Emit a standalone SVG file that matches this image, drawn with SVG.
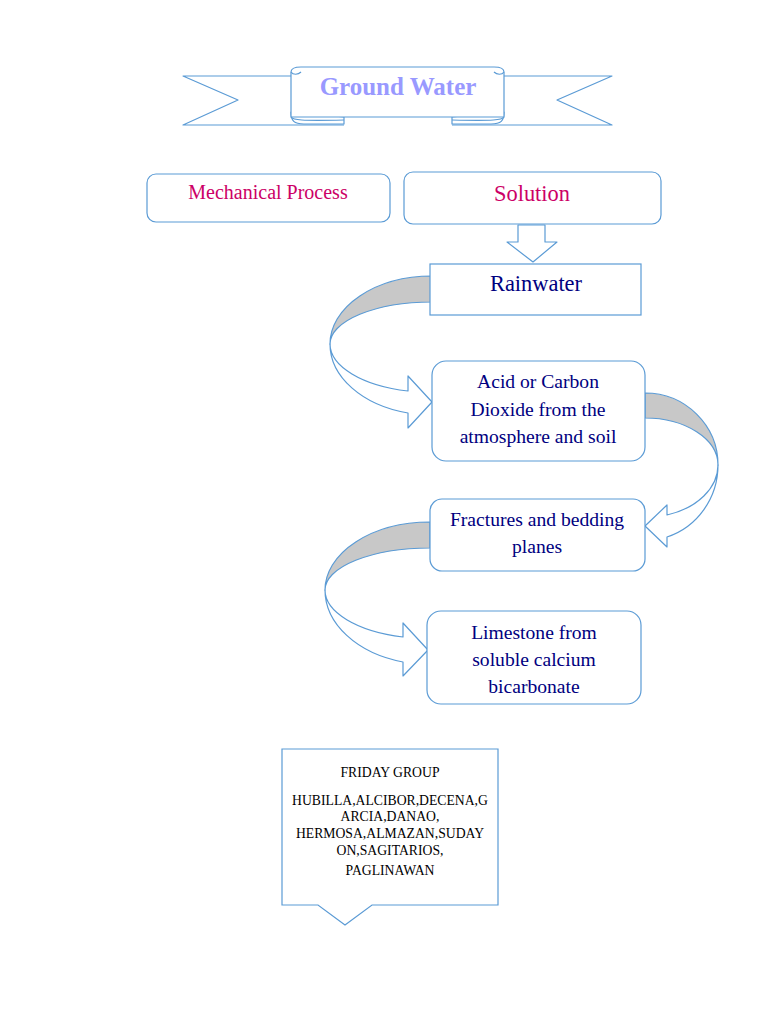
<svg xmlns="http://www.w3.org/2000/svg" width="768" height="1024" viewBox="0 0 768 1024">
<style>
.ln{fill:none;stroke:#5b9bd5;stroke-width:1.2;stroke-linejoin:round}
.bx{fill:#ffffff;stroke:#5b9bd5;stroke-width:1.2}
.gr{fill:#c8c8c8;stroke:#5b9bd5;stroke-width:1.2;stroke-linejoin:round}
.wh{fill:#ffffff;stroke:#5b9bd5;stroke-width:1.2;stroke-linejoin:round}
text{font-family:"Liberation Serif","Times New Roman",serif;text-anchor:middle}
.nv{fill:#000080;font-size:19.6px}
.nvl{fill:#000080;font-size:22.4px}
.cr{fill:#cc0066}
.bk{fill:#000000;font-size:13.7px}
</style>
<rect width="768" height="1024" fill="#ffffff"/>
<g id="title">
  <path class="wh" d="M291,76 L183,76 L238,100 L183,125 L344,125"/>
  <path class="wh" d="M504,76 L612,76 L557,100 L612,125 L452,125"/>
  <path class="wh" d="M291,112 C291,121 294,124 304,124 L344,124 L344,117 Z"/>
  <path class="wh" d="M504,112 C504,121 501,124 491,124 L452,124 L452,117 Z"/>
  <path class="wh" d="M291,117 L291,72 C291,68 295,67 301,67 L494,67 C500,67 504,68 504,72 L504,117 Z"/>
  <path class="ln" d="M291,72 C293,75 298,75 301,72 M504,72 C502,75 497,75 494,72 M291,117 C293,120 300,121 344,120 M504,117 C502,120 495,121 452,120"/>
  <text x="398" y="95" font-size="25" font-weight="bold" fill="#9999ff">Ground Water</text>
</g>
<g id="mechanical">
  <rect class="bx" x="147" y="174" width="243" height="48" rx="9"/>
  <text class="cr" x="268" y="199" font-size="20">Mechanical Process</text>
</g>
<g id="solution">
  <rect class="bx" x="404" y="172" width="257" height="52" rx="9"/>
  <text class="cr" x="532" y="201" font-size="22.4">Solution</text>
</g>
<g id="connectors">
  <path class="wh" d="M518,225 L545,225 L545,242 L557,242 L533,262 L507,242 L518,242 Z"/>
  <path class="gr" d="M432,276 A102,68 0 0 0 330,344 A102,42 0 0 1 432,302 Z"/>
  <path class="wh" d="M330,344 A102,71 0 0 0 408,413 L408,428 L432,402 L408,376 L408,391 A102,48.5 0 0 1 330,344 Z"/>
  <path class="gr" d="M645,393 A73,72 0 0 1 718,465 A73,47 0 0 0 645,418 Z"/>
  <path class="wh" d="M718,465 A73,75.5 0 0 1 667,537 L667,547 L645,526 L667,505 L667,515 A73,52.5 0 0 0 718,465 Z"/>
  <path class="gr" d="M430,522 A105,68 0 0 0 325,590 A105,42 0 0 1 430,548 Z"/>
  <path class="wh" d="M325,590 A105,74.5 0 0 0 403,662 L403,676 L428,650 L403,623 L403,637 A105,48.6 0 0 1 325,590 Z"/>
</g>
<g id="rainwater">
  <rect class="bx" x="430" y="264" width="211" height="51"/>
  <text class="nvl" x="536" y="291">Rainwater</text>
</g>
<g id="acid">
  <rect class="bx" x="432" y="361" width="213" height="100" rx="14"/>
  <text class="nv" x="538" y="388">Acid or Carbon</text>
  <text class="nv" x="538" y="416">Dioxide from the</text>
  <text class="nv" x="538" y="443">atmosphere and soil</text>
</g>
<g id="fractures">
  <rect class="bx" x="430" y="499" width="215" height="72" rx="12"/>
  <text class="nv" x="537" y="526">Fractures and bedding</text>
  <text class="nv" x="537" y="553">planes</text>
</g>
<g id="limestone">
  <rect class="bx" x="427" y="611" width="214" height="93" rx="14"/>
  <text class="nv" x="534" y="639">Limestone from</text>
  <text class="nv" x="534" y="666">soluble calcium</text>
  <text class="nv" x="534" y="693">bicarbonate</text>
</g>
<g id="friday">
  <path class="bx" d="M282,749 L498,749 L498,905 L372,905 L345,925 L318,905 L282,905 Z"/>
  <text class="bk" x="390" y="777">FRIDAY GROUP</text>
  <text class="bk" x="390" y="805">HUBILLA,ALCIBOR,DECENA,G</text>
  <text class="bk" x="390" y="821">ARCIA,DANAO,</text>
  <text class="bk" x="390" y="838">HERMOSA,ALMAZAN,SUDAY</text>
  <text class="bk" x="390" y="855">ON,SAGITARIOS,</text>
  <text class="bk" x="390" y="875">PAGLINAWAN</text>
</g>
</svg>
